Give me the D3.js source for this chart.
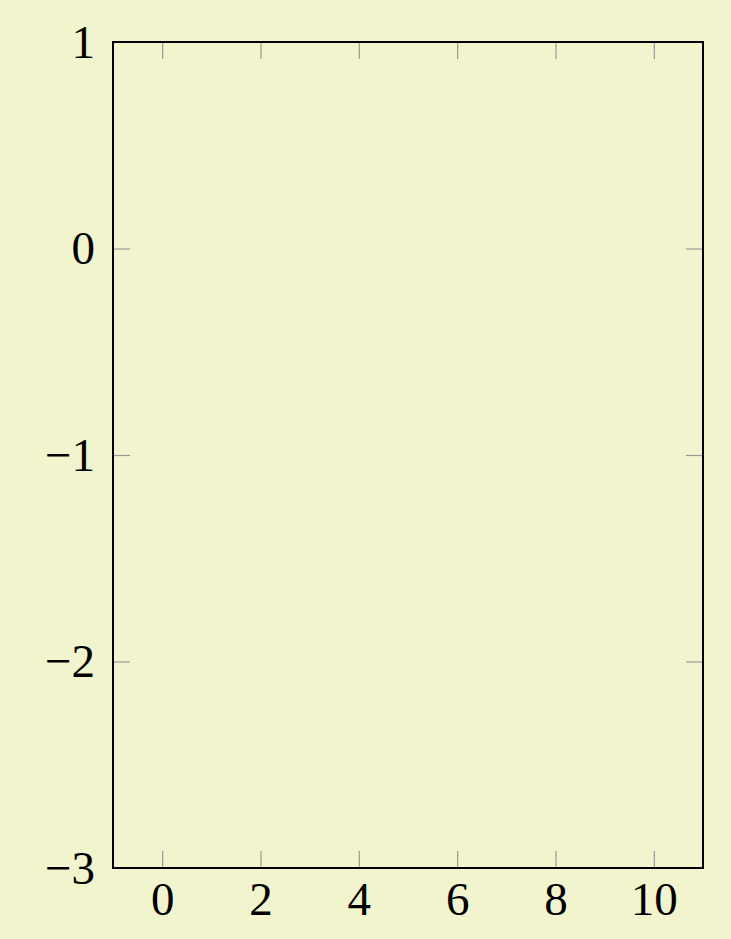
<!DOCTYPE html>
<html>
<head>
<meta charset="utf-8">
<script src="https://cdn.jsdelivr.net/npm/d3@7"></script>
<style>
  html, body { margin: 0; padding: 0; background: #f2f4cd; }
  svg { display: block; }
  .tick text { font-family: "Liberation Serif", "DejaVu Serif", serif; font-size: 47px; fill: #000; }
</style>
</head>
<body>
<div id="chart"></div>
<script>
// axis limits and ticks
var xDomain = [-1, 11];
var yDomain = [-3, 1];
var xTicks = [0, 2, 4, 6, 8, 10];
var yTicks = [-3, -2, -1, 0, 1];

var width = 731, height = 939;
var margin = { top: 42, right: 28, bottom: 71, left: 113 };
var w = width - margin.left - margin.right,
  h = height - margin.top - margin.bottom;

var svg = d3.select("#chart")
  .append("svg")
  .attr("width", width)
  .attr("height", height);

svg.append("rect")
  .attr("width", width)
  .attr("height", height)
  .attr("fill", "#f2f4cd");

var g = svg.append("g")
  .attr("transform", "translate(" + margin.left + "," + margin.top + ")");

var x = d3.scaleLinear().domain(xDomain).range([0, w]);
var y = d3.scaleLinear().domain(yDomain).range([h, 0]);

var fmt = function (d) { return d < 0 ? "\u2212" + Math.abs(d) : "" + d; };
var tickLen = 17;

// inward gray ticks on all four sides
function tickMarks(sel, axis) {
  sel.call(axis);
  sel.select(".domain").remove();
  sel.selectAll(".tick line").attr("stroke", "#999").attr("stroke-width", 1.2);
}

g.append("g")
  .attr("transform", "translate(0," + h + ")")
  .call(tickMarks, d3.axisBottom(x).tickValues(xTicks).tickSize(-tickLen).tickPadding(14).tickFormat(fmt));

g.append("g")
  .call(tickMarks, d3.axisTop(x).tickValues(xTicks).tickSize(-tickLen).tickFormat(""));

g.append("g")
  .call(tickMarks, d3.axisLeft(y).tickValues(yTicks).tickSize(-tickLen).tickPadding(18).tickFormat(fmt));

g.append("g")
  .attr("transform", "translate(" + w + ",0)")
  .call(tickMarks, d3.axisRight(y).tickValues(yTicks).tickSize(-tickLen).tickFormat(""));

// hide ticks that sit on the frame corners
g.selectAll(".tick").filter(function (d) { return d === 1 || d === -3; })
  .select("line").attr("stroke", "none");

// frame
g.append("rect")
  .attr("width", w)
  .attr("height", h)
  .attr("fill", "none")
  .attr("stroke", "#000")
  .attr("stroke-width", 2);
</script>
</body>
</html>
